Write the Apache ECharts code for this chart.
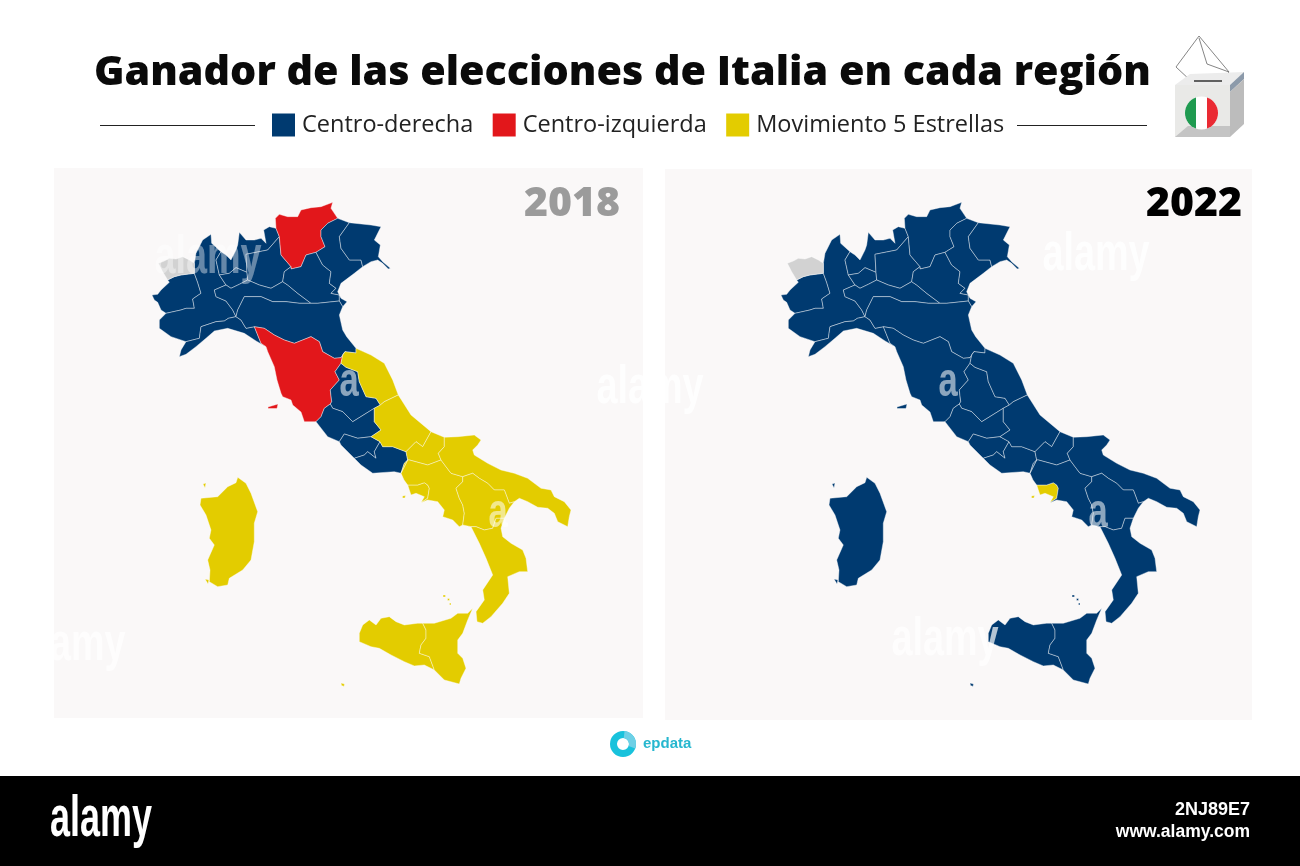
<!DOCTYPE html>
<html><head><meta charset="utf-8">
<style>html,body{margin:0;padding:0;background:#fff}#c{width:1300px;height:866px}</style>
<script src="https://cdn.jsdelivr.net/npm/echarts@6/dist/echarts.min.js"></script>
</head><body><div id="c"></div>
<script>
// ---------- chart values ----------
const titleText = 'Ganador de las elecciones de Italia en cada región';
const blocNames = ['Centro-derecha', 'Centro-izquierda', 'Movimiento 5 Estrellas'];
const blocColors = ['#003a70', '#e2171b', '#e3cc00'];
const yearLabels = ['2018', '2022'];
const regionNames = ['Piamonte 1','Piamonte 2','Valle de Aosta','Lombardía 1','Lombardía 2','Lombardía 3','Lombardía 4',
  'Trentino-Alto Adigio','Véneto 1','Véneto 2','Friuli-Venecia Julia','Liguria','Emilia-Romaña','Toscana','Umbría','Marcas',
  'Lacio 1','Lacio 2','Lacio 3','Abruzos','Molise','Nápoles','Campania','Apulia','Basilicata','Calabria','Sicilia 1','Sicilia 2','Cerdeña'];
// index into blocNames; null = no data (Valle de Aosta)
const winners2018 = [0,0,null,0,0,0,0, 1,0,0,0,0,0,1,0,2, 0,0,0,2,2,2,2,2,2,2,2,2,2];
const winners2022 = [0,0,null,0,0,0,0, 0,0,0,0,0,0,0,0,0, 0,0,0,0,0,2,0,0,0,0,0,0,0];

// ---------- base map geometry (outline tracing grid -> lon/lat) ----------
const northGrid = {
  aostaNW:[[80,255],[65,230],[52,205],[70,198],[85,190],[105,192],[125,185],[145,195],[160,205]],
  aostaE:[[160,205],[160,235]],
  aostaS:[[160,235],[120,240],[100,245],[80,255]],
  torW:[[80,255],[85,262],[60,285],[50,298],[33,300],[40,315],[50,322],[60,345],[75,355]],
  torE:[[75,355],[120,345],[135,340],[160,340],[155,312],[180,295],[170,262],[160,235]],
  pieN:[[160,205],[165,175],[185,135],[210,118],[212,145],[240,170]],
  pieE1:[[240,170],[225,195],[235,240]],
  pieE2:[[235,240],[255,270]],
  pieE3:[[255,270],[220,285],[225,305],[255,318],[275,345],[285,365]],
  ligN:[[285,365],[262,370],[250,378],[225,380],[180,395],[175,430],[135,440]],
  pieSW:[[75,355],[55,375],[55,400],[90,425],[135,440]],
  lomN:[[240,170],[255,180],[270,195],[285,165],[290,150],[295,112],[315,135],[340,135],[360,130],[375,145],[368,105],[385,95],[405,100],[415,125]],
  lomE1:[[415,125],[420,180],[450,215]],
  lomE2:[[450,215],[430,230],[425,260]],
  lomSE:[[425,260],[440,270],[470,295],[510,325]],
  lomS:[[510,325],[475,325],[435,320],[395,320],[360,305],[310,305],[290,345],[285,365]],
  lomA:[[415,125],[380,165],[315,178],[318,232]],
  lomB:[[318,232],[285,218],[265,235],[235,240]],
  lomC:[[318,232],[320,255]],
  lomD:[[255,270],[270,280],[295,268],[320,255]],
  lomF:[[320,255],[355,270],[390,280],[425,260]],
  trN:[[415,125],[405,100],[403,70],[415,58],[440,65],[470,65],[480,45],[510,38],[540,35],[575,22],[570,40],[590,70]],
  trE:[[590,70],[560,85],[540,105],[540,125],[552,155],[525,172]],
  trS:[[525,172],[495,180],[480,215],[450,222],[450,215]],
  veIn:[[525,172],[545,210],[570,230],[565,265],[585,280],[570,295],[595,300],[595,318]],
  veEm:[[595,318],[530,325],[510,325]],
  veN:[[590,70],[625,83]],
  veFr:[[625,83],[595,125],[600,160],[625,195],[660,195],[665,215]],
  veCoast:[[665,215],[640,235],[600,265],[590,290],[600,310],[618,320],[605,335]],
  emTip:[[605,335],[595,318]],
  frOut:[[625,83],[690,90],[720,95],[715,105],[700,135],[718,150],[712,185],[725,200],[748,220],[742,222],[725,205],[710,195],[690,200],[665,215]],
  emCoast:[[605,335],[595,360],[605,405],[617,425],[645,460]],
  emS1:[[285,365],[300,375],[315,400],[340,395]],
  emS2:[[340,395],[370,400],[400,420],[430,435],[460,445],[510,425],[535,440],[545,470],[580,490],[600,488],[612,470]],
  ligW:[[135,440],[120,465],[115,485],[135,478],[165,455],[195,430],[220,408],[260,400],[310,415],[345,438],[375,455]],
  ligE:[[375,455],[360,445],[340,395]]
};
const southArcs = {
  emS3:[[974,351.67],[985,353],[985,348.33]],
  tusE1:[[974,351.67],[971.7,355],[970,363.3]],
  tusUmb:[[970,363.3],[964,371.7],[968.3,380],[959.3,390],[960.7,401.7],[959.3,404]],
  lazTus:[[959.3,404],[953.3,408.3],[950,416.7],[945,421.7]],
  tusCoast:[[895,346.67],[896.7,351.7],[903.3,366.7],[906,380],[910,393.3],[911.7,396.7],[920,400],[921.7,405],[930,412],[933.3,421.7],[945,421.7]],
  marCoast:[[985,348.33],[1000,355],[1013.3,363.3],[1021.7,380],[1027.3,395]],
  marAbr:[[1027.3,395],[1013.3,401.7],[1009.3,405]],
  umbE:[[1009.3,405],[1005,398.3],[995,396.7],[988.3,381.7],[986.7,371.7],[975,367.3],[970,363.3]],
  umbS1:[[959.3,404],[961.7,408.3],[971.7,411.7],[981.7,421.7],[1003.3,408.3]],
  umbS2:[[1003.3,408.3],[1009.3,405]],
  abrCoast:[[1027.3,395],[1040,415],[1060,431.7]],
  abrMol:[[1060,431.7],[1051.7,446.7],[1045,441.7],[1035,451.7]],
  abrLaz2:[[1035,451.7],[1021.7,446.7],[1011.7,446.7],[1009,441.7]],
  abrLaz1a:[[1009,441.7],[1000,436.7]],
  abrLaz1b:[[1000,436.7],[1010,430],[1003.3,421.7],[1003.3,410],[1003.3,408.3]],
  lazCoast1:[[945,421.7],[956.7,436.7],[968.3,441.7]],
  lazIn1:[[968.3,441.7],[973.3,434],[986.7,438.3],[1000,436.7]],
  lazCoast2:[[968.3,441.7],[970,445],[980,455],[990,465]],
  lazIn2:[[990,465],[983.3,458.3],[993.3,455],[996.7,451.7],[1005,458.3],[1003.3,451.7],[1009,441.7]],
  lazCoast3:[[990,465],[1001.7,473.3],[1023.3,471.7],[1030,473.3]],
  lazCam1:[[1030,473.3],[1033.3,463.3],[1036.7,460]],
  lazCam2:[[1036.7,460],[1035,451.7]],
  molCoast:[[1060,431.7],[1073.3,437.3]],
  molPug:[[1073.3,437.3],[1073.3,446.7],[1067.3,453.3],[1070,460]],
  molCam:[[1070,460],[1056.7,465],[1038.3,460],[1036.7,460]],
  camPug:[[1070,460],[1075,466.7],[1080,473.3],[1091.7,476.7]],
  camBas:[[1091.7,476.7],[1091.7,481.7],[1085,488.3],[1088.3,498.3],[1091.7,505],[1093.3,513.3],[1091.7,525]],
  camCoast:[[1091.7,525],[1088.3,526.7],[1081.7,520],[1071.7,516.7],[1073.3,510],[1066.7,501.7],[1056.7,500],[1050,502.7]],
  napIn:[[1050,502.7],[1056.7,498.3],[1058.3,488.3],[1056.7,485],[1053.3,482.7],[1046.7,485],[1036.7,485]],
  camN:[[1036.7,485],[1033,480],[1030,473.3]],
  napCoast:[[1036.7,485],[1038.3,490],[1040,495],[1045,493.3],[1053.3,496.7],[1050,502.7]],
  pugCoast:[[1073.3,437.3],[1086.7,436.7],[1103.3,435],[1110,440],[1106.7,445],[1101.7,450],[1103.3,455],[1116.7,463.3],[1130,470],[1143.3,473.3],[1156.7,478.3],[1170,488.3],[1180,490],[1183.3,496.7],[1193.3,501.7],[1200,510],[1198.3,516.7],[1196.7,526.7],[1186.7,521.7],[1183.3,513.3],[1176.7,508.3],[1166.7,507.3],[1156.7,501.7],[1148.3,498.3],[1143.3,501.7]],
  pugBas:[[1143.3,501.7],[1138.3,503.3],[1133.3,490],[1123.3,490],[1116.7,483.3],[1108.3,478.3],[1101.7,473.3],[1091.7,476.7]],
  basCoast:[[1143.3,501.7],[1138.3,508.3],[1133.3,518.3]],
  calN:[[1100,526.7],[1105,526.7],[1113.3,530],[1121.7,528.3],[1125,518.3],[1133.3,518.3]],
  basW:[[1100,526.7],[1091.7,525]],
  calCoast:[[1133.3,518.3],[1130,528.3],[1131.7,536.7],[1140,543.3],[1151.7,550],[1155,558.3],[1156.7,571.7],[1148.3,571.7],[1136.7,576.7],[1138.3,593.3],[1131.7,603.3],[1120,616.7],[1111.7,623.3],[1106,621.7],[1105,611.7],[1113.3,600],[1111.7,590],[1121.7,575],[1115,558.3],[1108.3,543.3],[1100,526.7]],
  sicN1:[[1051.7,623.3],[1046.7,623.3],[1033.3,625],[1025,621.7],[1018.3,616.7],[1010,618.3],[1005,625],[998.3,620],[991.7,625],[988.3,633.3],[988.3,641.7],[1000,646.7],[1008.3,648.3],[1020,655],[1033.3,661.7],[1043.3,666],[1053.3,665],[1063.3,670]],
  sicN2:[[1063.3,670],[1073.3,680],[1088.3,684],[1090,678.3],[1095,668.3],[1091.7,658.3],[1086.7,653.3],[1086.7,640],[1091.7,633.3],[1096.7,620],[1101.7,608.3],[1096.7,613.3],[1086.7,613.3],[1080,618.3],[1063.3,623.3],[1051.7,623.3]],
  sicIn:[[1051.7,623.3],[1055,630],[1055,638.3],[1050,645],[1048.3,653.3],[1058.3,656.7],[1063.3,670]],
  sard:[[866.7,477.3],[875,483.3],[880,493.3],[886.7,511.7],[883.3,523.3],[883.3,541.7],[880,560],[871.7,570],[858.3,578.3],[856.7,585],[846.7,586.7],[838.3,581.7],[839,570],[836.7,560],[843.3,545],[838.3,538.3],[840,530],[835,515],[829,505],[830,498.3],[846.7,496.7],[856.7,486.7],[865,482.7],[866.7,477.3]]
};
const islets = {
  'Toscana':[[[897,407],[907,404],[906,408.5],[897,408.5]]],
  'Nápoles':[[[1031.5,496],[1034.5,495.5],[1034,498],[1031.5,498]]],
  'Sicilia 1':[[[970,683],[973.5,684],[973,686.5],[970.5,685.5]]],
  'Sicilia 2':[[[1072,595],[1074.5,595],[1074.5,597],[1072,597]],[[1076.5,598.5],[1078.5,598.5],[1078.5,600.5],[1076.5,600.5]],[[1078.5,603],[1080,603],[1080,605],[1078.5,605]]],
  'Cerdeña':[[[832,484],[835,483],[834,488]],[[834,579],[838,580],[837,584]]]
};
const regionArcs = {
  'Piamonte 1':['torW','torE','aostaS'],
  'Piamonte 2':['-torE','pieSW','-ligN','-pieE3','-pieE2','-pieE1','-pieN','aostaE'],
  'Valle de Aosta':['aostaNW','aostaE','aostaS'],
  'Lombardía 1':['lomN','lomA','lomB','-pieE1'],
  'Lombardía 2':['-lomB','lomC','-lomD','-pieE2'],
  'Lombardía 3':['-lomA','lomE1','lomE2','-lomF','-lomC'],
  'Lombardía 4':['lomD','lomF','lomSE','lomS','-pieE3'],
  'Trentino-Alto Adigio':['trN','trE','trS','-lomE1'],
  'Véneto 1':['-trS','veIn','veEm','-lomSE','-lomE2'],
  'Véneto 2':['-trE','veN','veFr','veCoast','emTip','-veIn'],
  'Friuli-Venecia Julia':['-veFr','frOut'],
  'Liguria':['ligN','ligW','ligE','-emS1'],
  'Emilia-Romaña':['emS1','emS2','emS3','-emCoast','emTip','veEm','lomS'],
  'Toscana':['emS2','tusE1','tusUmb','lazTus','-tusCoast','ligE'],
  'Umbría':['tusUmb','umbS1','umbS2','umbE'],
  'Marcas':['marCoast','marAbr','umbE','-tusE1','emS3'],
  'Lacio 1':['lazCoast1','lazIn1','abrLaz1b','-umbS1','lazTus'],
  'Lacio 2':['lazCoast2','lazIn2','abrLaz1a','-lazIn1'],
  'Lacio 3':['lazCoast3','lazCam1','lazCam2','abrLaz2','-lazIn2'],
  'Abruzos':['abrCoast','abrMol','abrLaz2','abrLaz1a','abrLaz1b','umbS2','-marAbr'],
  'Molise':['molCoast','molPug','molCam','lazCam2','-abrMol'],
  'Nápoles':['napCoast','napIn'],
  'Campania':['-molCam','camPug','camBas','camCoast','napIn','camN','-lazCam1'],
  'Apulia':['pugCoast','pugBas','-camPug','-molPug'],
  'Basilicata':['-pugBas','basCoast','-calN','basW','-camBas'],
  'Calabria':['calN','calCoast'],
  'Sicilia 1':['sicN1','-sicIn'],
  'Sicilia 2':['sicN2','sicIn'],
  'Cerdeña':['sard']
};
const fromGrid = ([x, y]) => [770 + x / 3, 195 + y / 3];
const arcs = Object.assign({}, southArcs);
Object.keys(northGrid).forEach(k => { arcs[k] = northGrid[k].map(fromGrid); });
const lonLat = ([x, y]) => [+(6.63 + (x - 781) / 35.2).toFixed(3), +(47.09 - (y - 204) / 46).toFixed(3)];
function ring(names) {
  let out = [];
  names.forEach(n => {
    const rev = n[0] === '-';
    const a = arcs[rev ? n.slice(1) : n];
    out = out.concat(rev ? a.slice().reverse() : a);
  });
  out.push(out[0]);
  return out.map(lonLat);
}
const italyGeo = {
  type: 'FeatureCollection',
  features: regionNames.map(name => ({
    type: 'Feature',
    properties: { name },
    geometry: {
      type: 'MultiPolygon',
      coordinates: [[ring(regionArcs[name])]].concat((islets[name] || []).map(r => [r.concat([r[0]]).map(lonLat)]))
    }
  }))
};
echarts.registerMap('italia2018', italyGeo);
echarts.registerMap('italia2022', italyGeo);

const regionData = w => regionNames.map((name, i) => ({ name, value: w[i] })).filter(d => d.value !== null);
const mapSeries = (yr, w, cx) => ({
  type: 'map', name: yr, map: 'italia' + yr, roam: false, silent: true, selectedMode: false,
  aspectScale: 0.7653,
  boundingCoords: [[6.63, 47.09], [18.533, 36.611]],
  layoutCenter: [cx, 445], layoutSize: 482,
  label: { show: false }, emphasis: { disabled: true },
  itemStyle: { areaColor: '#d2d2d2', borderColor: 'rgba(255,255,255,0.5)', borderWidth: 0.8 },
  data: regionData(w)
});

// ---------- decoration ----------
const font = '"Open Sans"';
const narrow = (t, x, y, size, sx, op, z) => ({ type: 'text', z: z || 100, x, y, scaleX: sx, style: { text: t, x: 0, y: 0, fill: '#fff', opacity: op, font: `bold ${size}px "Liberation Sans"`, textAlign: 'center', textVerticalAlign: 'middle' } });
const poly = (pts, fill, stroke, z) => ({ type: 'polygon', z: z || 5, shape: { points: pts }, style: { fill, stroke: stroke || null, lineWidth: stroke ? 0.8 : 0 } });
const cap = (cx, cy, r, side, dx) => {
  const pts = [], a0 = Math.acos(dx / r);
  for (let i = 0; i <= 16; i++) { const a = -a0 + 2 * a0 * i / 16; pts.push([cx + side * r * Math.cos(a), cy + r * Math.sin(a)]); }
  return pts;
};
const graphics = [
  { type: 'rect', z: -1, shape: { x: 54, y: 168, width: 589, height: 550 }, style: { fill: '#faf8f8' } },
  { type: 'rect', z: -1, shape: { x: 665, y: 169, width: 587, height: 551 }, style: { fill: '#faf8f8' } },
  { type: 'line', shape: { x1: 100, y1: 125.5, x2: 255, y2: 125.5 }, style: { stroke: '#222', lineWidth: 1 } },
  { type: 'line', shape: { x1: 1017, y1: 125.5, x2: 1147, y2: 125.5 }, style: { stroke: '#222', lineWidth: 1 } },
  { type: 'text', z: 10, style: { text: yearLabels[0], x: 620, y: 204, fill: '#9b9b9b', font: `800 41px ${font}`, textAlign: 'right', textVerticalAlign: 'middle' } },
  { type: 'text', z: 10, style: { text: yearLabels[1], x: 1242, y: 204, fill: '#000', font: `800 41px ${font}`, textAlign: 'right', textVerticalAlign: 'middle' } },
  // ballot box
  poly([[1176, 67], [1199, 36], [1229, 72], [1221, 81], [1191, 81]], '#fff', '#666'),
  { type: 'polyline', z: 6, shape: { points: [[1199, 38], [1207, 64], [1229, 72]] }, style: { stroke: '#666', fill: null, lineWidth: 0.8 } },
  poly([[1175, 85], [1190, 74], [1244, 72], [1230, 85]], '#ececec'),
  poly([[1230, 85], [1244, 72], [1244, 79], [1230, 92]], '#8c9aaa'),
  poly([[1175, 85], [1230, 85], [1230, 137], [1175, 137]], '#e9e9e7'),
  poly([[1230, 92], [1244, 79], [1244, 124], [1230, 137]], '#bcbcbc'),
  poly([[1175, 137], [1188, 126], [1230, 126], [1230, 137]], '#c4c4c4'),
  { type: 'line', z: 6, shape: { x1: 1194, y1: 81, x2: 1222, y2: 81 }, style: { stroke: '#333', lineWidth: 1.5 } },
  { type: 'circle', z: 6, shape: { cx: 1201.5, cy: 113, r: 16.5 }, style: { fill: '#fff' } },
  poly(cap(1201.5, 113, 16.5, -1, 5.5), '#1f9a50', null, 7), poly(cap(1201.5, 113, 16.5, 1, 5.5), '#ea2a33', null, 7),
  // epdata
  { type: 'ring', z: 5, shape: { cx: 623, cy: 744, r: 13, r0: 6 }, style: { fill: '#18c2dc' } },
  { type: 'sector', z: 6, shape: { cx: 623, cy: 744, r: 13, r0: 6, startAngle: -1.45, endAngle: 0.35 }, style: { fill: '#6ed0e6' } },
  { type: 'text', z: 5, style: { text: 'epdata', x: 643, y: 744, fill: '#26b7cf', font: 'bold 15px "Liberation Sans"', textVerticalAlign: 'middle' } },
  // stock bar
  { type: 'rect', z: 20, shape: { x: 0, y: 776, width: 1300, height: 90 }, style: { fill: '#000' } },
  narrow('alamy', 101, 820, 58, 0.62, 1, 21),
  { type: 'text', z: 21, style: { text: '2NJ89E7', x: 1250, y: 810, fill: '#fff', font: 'bold 18px "Liberation Sans"', textAlign: 'right', textVerticalAlign: 'middle' } },
  { type: 'text', z: 21, style: { text: 'www.alamy.com', x: 1250, y: 832, fill: '#fff', font: 'bold 17.5px "Liberation Sans"', textAlign: 'right', textVerticalAlign: 'middle' } },
  // watermark
  narrow('alamy', 208, 258, 54, 0.7, 0.4), narrow('alamy', 1096, 255, 54, 0.7, 0.8), narrow('alamy', 650, 388, 54, 0.7, 0.8),
  narrow('alamy', 945, 640, 54, 0.7, 0.7), narrow('alamy', 72, 645, 54, 0.7, 0.7),
  narrow('a', 349, 383, 48, 0.72, 0.55), narrow('a', 948, 383, 48, 0.72, 0.55), narrow('a', 498, 514, 48, 0.72, 0.55), narrow('a', 1098, 514, 48, 0.72, 0.55)
];

const chart = echarts.init(document.getElementById('c'), null, { renderer: 'canvas', width: 1300, height: 866 });
chart.setOption({
  backgroundColor: '#fff',
  animation: false,
  title: { text: titleText, left: 89, top: 48, textStyle: { fontFamily: font, fontWeight: 800, fontSize: 41.25, color: '#0a0a0a' } },
  visualMap: {
    type: 'piecewise', orient: 'horizontal', left: 257, top: 98, align: 'left', selectedMode: false, hoverLink: false,
    itemWidth: 23, itemHeight: 23, itemSymbol: 'rect', itemGap: 19.5, textGap: 7,
    textStyle: { fontFamily: font, fontSize: 23.5, color: '#222' },
    pieces: blocNames.map((label, i) => ({ value: i, label, color: blocColors[i] })),
    seriesIndex: [0, 1]
  },
  graphic: { elements: graphics },
  series: [mapSeries(yearLabels[0], winners2018, 361.5), mapSeries(yearLabels[1], winners2022, 990.5)]
});
</script></body></html>
